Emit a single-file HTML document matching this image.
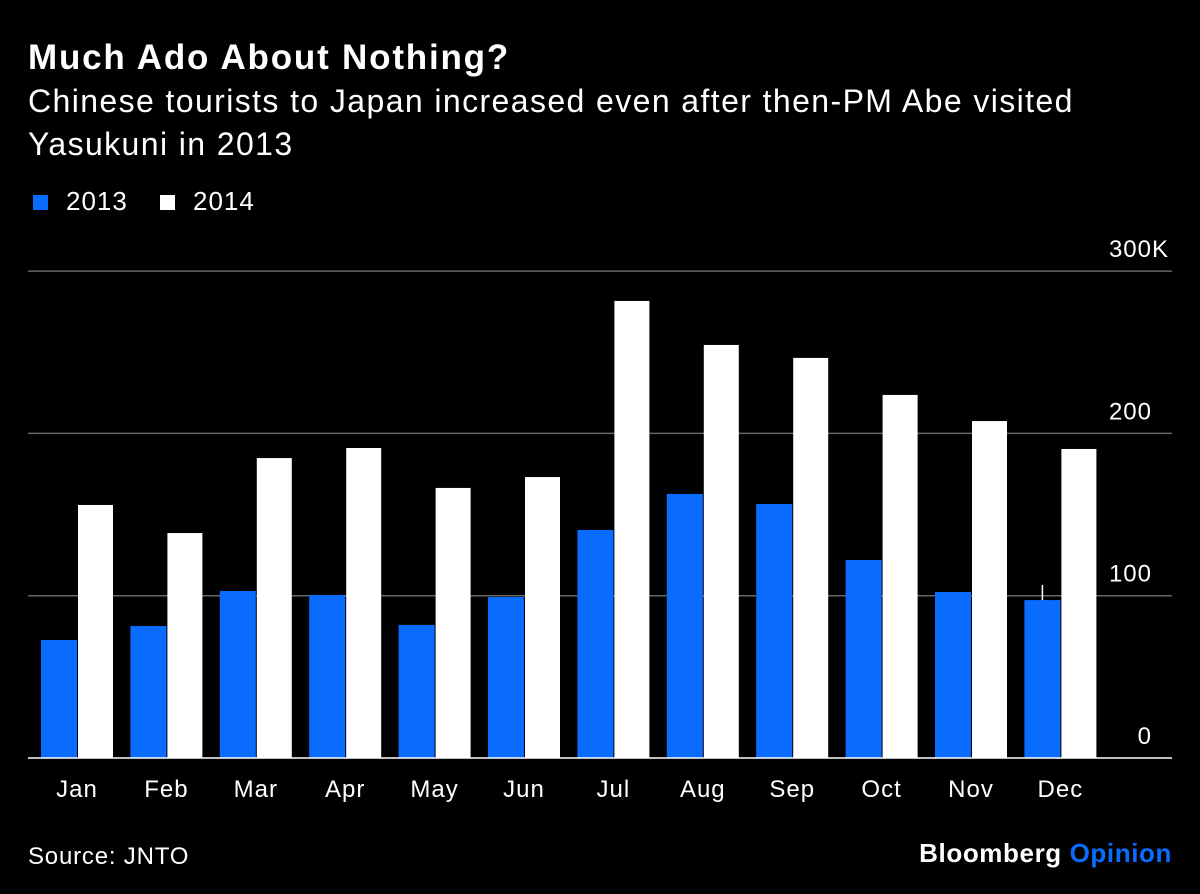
<!DOCTYPE html>
<html><head><meta charset="utf-8"><style>
body{margin:0;background:#000;width:1200px;height:894px;overflow:hidden;font-family:"Liberation Sans","DejaVu Sans",sans-serif;color:#fff}
.t{position:absolute;left:28px;top:38px;font-size:35px;font-weight:bold;letter-spacing:1.8px}
.s{position:absolute;left:28px;top:80px;font-size:32px;letter-spacing:1.4px;line-height:43px;width:1100px}
.lg{position:absolute;top:186px;font-size:26px;letter-spacing:1px}
.sw{display:inline-block;width:15px;height:15px;margin-right:18px;vertical-align:0px}
.src{position:absolute;left:28px;top:843px;font-size:24px;letter-spacing:0.8px}
.br{position:absolute;right:28px;top:838px;font-size:26px;font-weight:bold;letter-spacing:0.6px}
</style></head><body>
<div class="t">Much Ado About Nothing?</div>
<div class="s">Chinese tourists to Japan increased even after then-PM Abe visited Yasukuni in 2013</div>
<div class="lg" style="left:33px"><span class="sw" style="background:#0a6cff"></span>2013</div>
<div class="lg" style="left:160px"><span class="sw" style="background:#fff"></span>2014</div>
<svg id="ch" width="1200" height="894" style="position:absolute;left:0;top:0"></svg>
<div class="src">Source: JNTO</div>
<div class="br">Bloomberg <span style="color:#0a6cff">Opinion</span></div>
<script>
const months=["Jan","Feb","Mar","Apr","May","Jun","Jul","Aug","Sep","Oct","Nov","Dec"];
const s2013=[72.7,81.3,102.9,100.4,82,99.2,140.5,162.7,156.5,122,102.3,97.3];
const s2014=[155.9,138.6,184.8,191,166.4,173.1,281.6,254.5,246.5,223.7,207.6,190.4];
const ticks=[0,100,200,300];
const tickLabels=["0","100","200","300"];
const svg=document.getElementById('ch');const NS="http://www.w3.org/2000/svg";
function y(v){return 758-v*1.623;}
function x(i){return 77+i*89.4;}
function mk(t,a){const e=document.createElementNS(NS,t);for(const k in a)e.setAttribute(k,a[k]);svg.appendChild(e);return e;}
ticks.forEach((t,i)=>{
 if(i>0){const l=mk('line',{x1:28,x2:1172,y1:y(t),y2:y(t),stroke:'#666','stroke-width':1.5});
 
 }
 const tx=mk('text',{x:1152,y:y(t)-14,'text-anchor':'end',fill:'#fff','font-size':24,'letter-spacing':1,'font-family':'Liberation Sans, sans-serif'});
 tx.textContent=tickLabels[i];
 
 
 if(i===ticks.length-1){const k=mk('text',{x:1152,y:y(t)-14,fill:'#fff','font-size':24,'font-family':'Liberation Sans, sans-serif'});
 k.textContent='K';
 
 }
});
months.forEach((m,i)=>{
 const b=mk('rect',{x:x(i)-36,y:y(s2013[i]),width:36,height:y(0)-y(s2013[i]),fill:'#0a6cff'});
 
 
 const w=mk('rect',{x:x(i)+1,y:y(s2014[i]),width:35,height:y(0)-y(s2014[i]),fill:'#fff'});
 
 
 const t=mk('text',{x:x(i),y:797,'text-anchor':'middle',fill:'#fff','font-size':24,'letter-spacing':1,'font-family':'Liberation Sans, sans-serif'});
 t.textContent=m;
 
 
});
const ax=mk('line',{x1:28,x2:1172,y1:758,y2:758,stroke:'#fff','stroke-width':1.5});


const mkr=mk('line',{x1:x(11)-18,x2:x(11)-18,y1:585,y2:y(s2013[11]),stroke:'#fff','stroke-width':1.5});


</script>
</body></html>
